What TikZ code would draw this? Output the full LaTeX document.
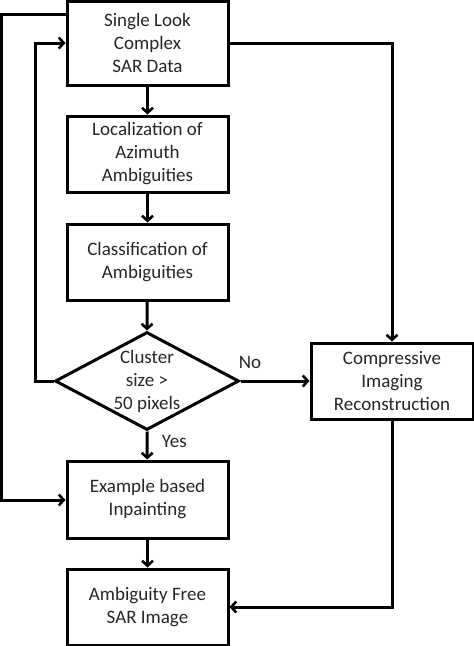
\documentclass[tikz,border=0pt]{standalone}
\usepackage{fontspec}
\setmainfont{Carlito}
\usetikzlibrary{shapes.geometric,arrows.meta}
\begin{document}
\begin{tikzpicture}[x=1pt,y=1pt,
  font=\fontsize{19}{23}\selectfont,
  stepbox/.style={draw, line width=3pt, minimum width=161pt, inner sep=0pt, align=center, text=black!85},
  conn/.style={line width=3pt, -{Straight Barb[length=5pt,width=11pt,line width=2.6pt]}},
  lbl/.style={text=black!85}]
\useasboundingbox (0,0) rectangle (474,-646);
\node[stepbox, minimum height=84pt] (b1) at (147.5,-43) {Single Look\\Complex\\SAR Data};
\node[stepbox, minimum height=76pt] (b2) at (147.5,-154) {Localization of\\Azimuth\\Ambiguities};
\node[stepbox, minimum height=76pt] (b3) at (147.5,-262) {Classification of\\Ambiguities};
\node[diamond, draw, line width=3pt, minimum width=184pt, minimum height=98pt, inner sep=0pt] (dia) at (147,-381) {};
\node[lbl, align=center] (dtxt) at (147,-381) {Cluster\\size >\\50 pixels};
\node[stepbox, minimum width=162pt, minimum height=76pt] (comp) at (392,-381) {Compressive\\Imaging\\Reconstruction};
\node[stepbox, minimum height=77pt] (b5) at (147.5,-499.5) {Example based\\Inpainting};
\node[stepbox, minimum height=76pt] (b6) at (147.5,-607) {Ambiguity Free\\SAR Image};
\coordinate (r1) at (392,-43);
\coordinate (l1) at (35,-381);
\coordinate (l2) at (35,-43);
\coordinate (o1) at (1.5,-14);
\coordinate (o2) at (1.5,-500);
\coordinate (r2) at (392,-607);
\draw[conn] (b1) -- (b2);
\draw[conn] (b2) -- (b3);
\draw[conn] (b3) -- (dia.north);
\draw[conn] (dia.south) -- node[lbl, right, pos=0.35, xshift=10pt] {Yes} (b5);
\draw[conn] (b5) -- (b6);
\draw[conn] (dia.east) -- (comp.west);
\node[lbl] (no) at (250,-362) {No};
\draw[conn] (b1.east |- r1) -- (r1) -- (comp.north);
\draw[conn] (dia.west) -- (l1) -- (l2) -- (b1.west |- l2);
\draw[conn] (b1.west |- o1) -- (o1) -- (o2) -- (b5.west |- o2);
\draw[conn] (comp.south) -- (r2) -- (b6.east |- r2);
\end{tikzpicture}
\end{document}
